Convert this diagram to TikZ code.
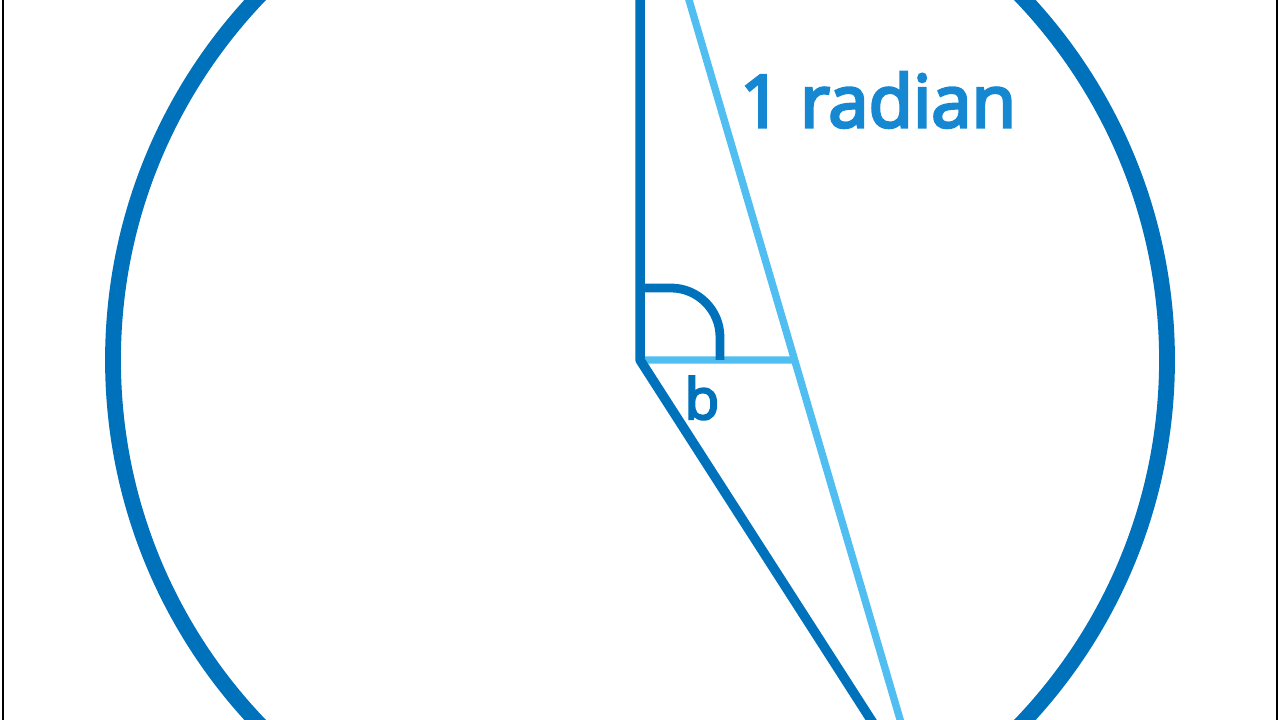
\documentclass[tikz,border=0pt]{standalone}
\usepackage{fontspec}
\setmainfont{Open Sans}
\newfontfamily\labelfont{Open Sans}[FakeBold=4]
\usetikzlibrary{calc}
\definecolor{darkblue}{RGB}{0,114,188}
\definecolor{lightblue}{RGB}{80,190,240}
\definecolor{textblue}{RGB}{22,136,210}

\begin{document}
\begin{tikzpicture}
  \useasboundingbox (-6.4,-3.6) rectangle (6.4,3.6);
  \draw[black,line width=0.7pt] (-6.37,-3.6) -- (-6.37,3.6);
  \draw[black,line width=0.7pt] (6.37,-3.6) -- (6.37,3.6);
  \clip (-6.4,-3.6) rectangle (6.4,3.6);
  \coordinate (centre) at (0,0);
  \coordinate (top) at (90:5.27);
  \coordinate (rim) at (-57.3:5.27);
  \coordinate (foot) at ($(top)!0.5431!(rim)$);
  \draw[darkblue,line width=4.5pt] (centre) circle (5.27);
  % chord and half-chord
  \draw[lightblue,line width=2.1pt] (top) -- (rim);
  \draw[lightblue,line width=2.1pt] (centre) -- (foot);
  % radii
  \draw[darkblue,line width=2.7pt,line join=round] (top) -- (centre) -- (rim);
  \draw[darkblue,line width=2.5pt,rounded corners=14pt] (0,0.72) -- (0.8,0.72) -- (0.8,0);
  \node[textblue,font=\labelfont\fontsize{20.6}{20.6}\selectfont] (radlabel) at (2.38,2.6) {1 radian};
  \node[darkblue,font=\labelfont\fontsize{16}{16}\selectfont] (blabel) at (0.62,-0.38) {b};
\end{tikzpicture}
\end{document}
